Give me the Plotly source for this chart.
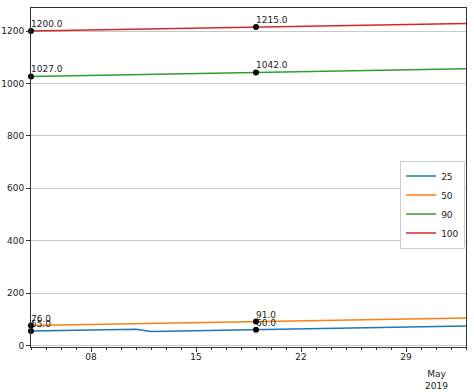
import plotly.graph_objects as go
import pandas as pd

dates = [d.strftime("%Y-%m-%d") for d in pd.date_range("2019-05-04", "2019-06-02", freq="D")]
series_names = ["25", "50", "90", "100"]
s25 = [55, 56, 57, 58, 59, 60, 61, 62, 53, 54, 55, 56, 57, 58, 59, 60, 61, 62, 63, 64,
       65, 66, 67, 68, 69, 70, 71, 72, 73, 74]
s50 = [76, 77, 78, 79, 80, 81, 82, 83, 84, 85, 86, 87, 88, 89, 90, 91, 92, 93, 94, 95,
       96, 97, 98, 99, 100, 101, 102, 103, 104, 105]
s90 = [1027, 1028, 1029, 1030, 1031, 1032, 1033, 1034, 1035, 1036, 1037, 1038, 1039, 1040, 1041,
       1042, 1043, 1044, 1045, 1046, 1047, 1048, 1049, 1050, 1051, 1052, 1053, 1054, 1055, 1056]
s100 = [1200, 1201, 1202, 1203, 1204, 1205, 1206, 1207, 1208, 1209, 1210, 1211, 1212, 1213, 1214,
        1215, 1216, 1217, 1218, 1219, 1220, 1221, 1222, 1223, 1224, 1225, 1226, 1227, 1228, 1229]
annotated_idx = [0, 15]
tick_dates = ["2019-05-08", "2019-05-15", "2019-05-22", "2019-05-29"]
tick_labels = ["08", "15", "22", "29"]
y_ticks = [0, 200, 400, 600, 800, 1000, 1200]

colors = ["#1f77b4", "#ff7f0e", "#2ca02c", "#d62728"]
FONT = "DejaVu Sans"

fig = go.Figure()
all_series = [s25, s50, s90, s100]
for name, vals, c in zip(series_names, all_series, colors):
    fig.add_trace(go.Scatter(x=dates, y=vals, mode="lines", name=name,
                             line=dict(color=c, width=1.5)))

mx, my = [], []
for vals in all_series:
    for i in annotated_idx:
        mx.append(dates[i])
        my.append(vals[i])
        fig.add_annotation(x=dates[i], y=vals[i], text=f"{vals[i]:.1f}", showarrow=False,
                           xanchor="left", yanchor="bottom", xshift=-2, yshift=0,
                           font=dict(family=FONT, size=9, color="#222"))
fig.add_trace(go.Scatter(x=mx, y=my, mode="markers", showlegend=False,
                         marker=dict(color="black", size=6), cliponaxis=False))

fig.add_annotation(x=1, y=0, xref="paper", yref="paper", text="May<br>2019", showarrow=False,
                   xanchor="center", yanchor="top", xshift=-30, yshift=-20, align="center",
                   font=dict(family=FONT, size=9, color="#222"))

fig.update_layout(
    width=474, height=392,
    margin=dict(l=31, r=8, t=8, b=45, autoexpand=False),
    paper_bgcolor="white", plot_bgcolor="white",
    font=dict(family=FONT, size=9, color="#222"),
    legend=dict(x=0.998, xanchor="right", y=0.42, yanchor="middle",
                bgcolor="white", bordercolor="#cccccc", borderwidth=1,
                font=dict(family=FONT, size=9), tracegroupgap=0, itemwidth=30),
    xaxis=dict(range=[dates[0], dates[-1]], tickvals=tick_dates, ticktext=tick_labels,
               automargin=False, ticklabelstandoff=-3,
               ticks="outside", ticklen=4, tickcolor="#333", showgrid=False,
               showline=True, linecolor="#333", linewidth=1, mirror=True, zeroline=False,
               minor=dict(dtick=86400000, ticks="outside", ticklen=2, tickcolor="#333",
                          showgrid=False, tick0="2019-05-04")),
    yaxis=dict(range=[-6, 1288], tickvals=y_ticks, ticks="outside", ticklen=4, tickcolor="#333",
               automargin=False,
               showgrid=True, gridcolor="#c8c8c8", gridwidth=1,
               showline=True, linecolor="#333", linewidth=1, mirror=True, zeroline=False),
)

fig.write_html("out.html", config={"displayModeBar": False},
               post_script="document.body.style.margin='0';")
